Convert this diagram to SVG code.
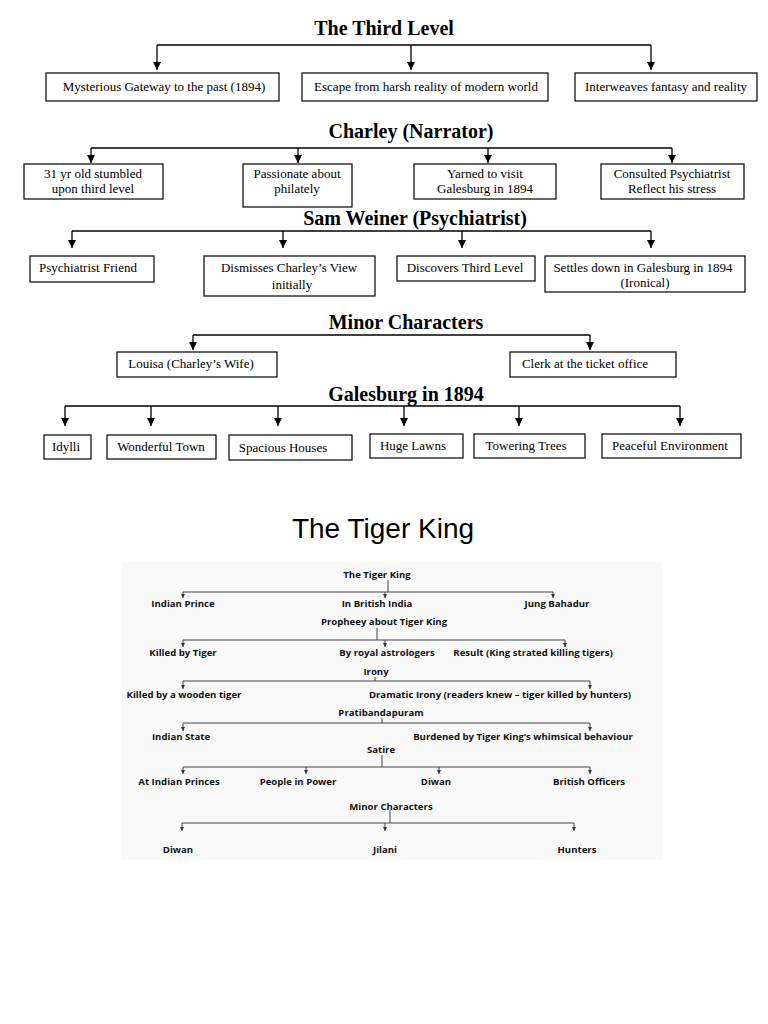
<svg xmlns="http://www.w3.org/2000/svg" width="768" height="1024" viewBox="0 0 768 1024">
<style>
.title{font-family:"Liberation Serif","Times New Roman",serif;font-weight:bold;font-size:20px;fill:#000;text-anchor:middle}
.t{font-family:"Liberation Serif","Times New Roman",serif;font-size:13px;fill:#000;text-anchor:middle}
.box{fill:#fff;stroke:#000;stroke-width:1.2}
.con{fill:none;stroke:#000;stroke-width:1.3}
.tk{font-family:"Open Sans","Liberation Sans",sans-serif;font-weight:bold;font-size:9.6px;fill:#111;text-anchor:middle}
.tcon{fill:none;stroke:#444;stroke-width:1}
.big{font-family:"Liberation Sans",Arial,sans-serif;font-size:28px;fill:#000;text-anchor:middle}
</style>
<defs>
<marker id="ah" viewBox="0 0 10 10" refX="10" refY="5" markerWidth="9" markerHeight="8" markerUnits="userSpaceOnUse" orient="auto"><path d="M0,0 L10,5 L0,10 z" fill="#000"/></marker>
<marker id="ahs" viewBox="0 0 10 10" refX="10" refY="5" markerWidth="5" markerHeight="4" markerUnits="userSpaceOnUse" orient="auto"><path d="M0,0 L10,5 L0,10 z" fill="#333"/></marker>
</defs>
<rect width="768" height="1024" fill="#fff"/>
<rect x="122" y="562" width="540" height="298" fill="#f9f9f9"/>

<g id="connectors">
<path class="con" d="M157,45 H651"/>
<path class="con" d="M157,45 V70" marker-end="url(#ah)"/>
<path class="con" d="M411,45 V70" marker-end="url(#ah)"/>
<path class="con" d="M651,45 V70" marker-end="url(#ah)"/>

<path class="con" d="M91,148 H672"/>
<path class="con" d="M91,148 V163" marker-end="url(#ah)"/>
<path class="con" d="M298,148 V163" marker-end="url(#ah)"/>
<path class="con" d="M488,148 V163" marker-end="url(#ah)"/>
<path class="con" d="M672,148 V163" marker-end="url(#ah)"/>

<path class="con" d="M72,231 H651"/>
<path class="con" d="M72,231 V248" marker-end="url(#ah)"/>
<path class="con" d="M283,231 V248" marker-end="url(#ah)"/>
<path class="con" d="M462,231 V248" marker-end="url(#ah)"/>
<path class="con" d="M651,231 V248" marker-end="url(#ah)"/>

<path class="con" d="M193,335 H590"/>
<path class="con" d="M193,335 V350" marker-end="url(#ah)"/>
<path class="con" d="M590,335 V350" marker-end="url(#ah)"/>

<path class="con" d="M65,406 H680"/>
<path class="con" d="M65,406 V426" marker-end="url(#ah)"/>
<path class="con" d="M151,406 V426" marker-end="url(#ah)"/>
<path class="con" d="M278,406 V426" marker-end="url(#ah)"/>
<path class="con" d="M404,406 V426" marker-end="url(#ah)"/>
<path class="con" d="M519,406 V426" marker-end="url(#ah)"/>
<path class="con" d="M680,406 V426" marker-end="url(#ah)"/>

<path class="tcon" d="M388,580 V592 M183,592 H553"/>
<path class="tcon" d="M183,592 V598" marker-end="url(#ahs)"/>
<path class="tcon" d="M385,592 V598" marker-end="url(#ahs)"/>
<path class="tcon" d="M553,592 V598" marker-end="url(#ahs)"/>

<path class="tcon" d="M377,628 V640 M183,640 H565"/>
<path class="tcon" d="M183,640 V647" marker-end="url(#ahs)"/>
<path class="tcon" d="M385,640 V647" marker-end="url(#ahs)"/>
<path class="tcon" d="M565,640 V647" marker-end="url(#ahs)"/>

<path class="tcon" d="M375,677 V681 M183,681 H590"/>
<path class="tcon" d="M183,681 V689" marker-end="url(#ahs)"/>
<path class="tcon" d="M590,681 V689" marker-end="url(#ahs)"/>

<path class="tcon" d="M382,718 V723 M183,723 H590"/>
<path class="tcon" d="M183,723 V731" marker-end="url(#ahs)"/>
<path class="tcon" d="M590,723 V731" marker-end="url(#ahs)"/>

<path class="tcon" d="M382,755 V767 M183,767 H590"/>
<path class="tcon" d="M183,767 V774" marker-end="url(#ahs)"/>
<path class="tcon" d="M306,767 V774" marker-end="url(#ahs)"/>
<path class="tcon" d="M439,767 V774" marker-end="url(#ahs)"/>
<path class="tcon" d="M590,767 V774" marker-end="url(#ahs)"/>

<path class="tcon" d="M390,810 V823 M182,823 H574"/>
<path class="tcon" d="M182,823 V831" marker-end="url(#ahs)"/>
<path class="tcon" d="M385,823 V831" marker-end="url(#ahs)"/>
<path class="tcon" d="M574,823 V831" marker-end="url(#ahs)"/>
</g>

<g id="n-third-level"><text class="title" x="384" y="35">The Third Level</text></g>
<g id="n-gateway"><rect class="box" x="46" y="73" width="233" height="28"/><text class="t" x="164" y="91">Mysterious Gateway to the past (1894)</text></g>
<g id="n-escape"><rect class="box" x="302" y="73" width="246" height="28"/><text class="t" x="426" y="91">Escape from harsh reality of modern world</text></g>
<g id="n-interweaves"><rect class="box" x="575" y="73" width="182" height="28"/><text class="t" x="666" y="91">Interweaves fantasy and reality</text></g>

<g id="n-charley"><text class="title" x="411" y="138">Charley (Narrator)</text></g>
<g id="n-31yr"><rect class="box" x="24" y="164" width="139" height="35"/><text class="t" x="93" y="178">31 yr old stumbled</text><text class="t" x="93" y="193">upon third level</text></g>
<g id="n-philately"><rect class="box" x="243" y="164" width="109" height="43"/><text class="t" x="297" y="178">Passionate about</text><text class="t" x="297" y="193">philately</text></g>
<g id="n-yarned"><rect class="box" x="414" y="164" width="142" height="35"/><text class="t" x="485" y="178">Yarned to visit</text><text class="t" x="485" y="193">Galesburg in 1894</text></g>
<g id="n-consulted"><rect class="box" x="601" y="164" width="143" height="35"/><text class="t" x="672" y="178">Consulted Psychiatrist</text><text class="t" x="672" y="193">Reflect his stress</text></g>

<g id="n-sam"><text class="title" x="415" y="225">Sam Weiner (Psychiatrist)</text></g>
<g id="n-friend"><rect class="box" x="30" y="256" width="124" height="26"/><text class="t" x="88" y="272">Psychiatrist Friend</text></g>
<g id="n-dismisses"><rect class="box" x="204" y="256" width="171" height="40"/><text class="t" x="289" y="272">Dismisses Charley’s View</text><text class="t" x="292" y="289">initially</text></g>
<g id="n-discovers"><rect class="box" x="397" y="256" width="138" height="25"/><text class="t" x="465" y="272">Discovers Third Level</text></g>
<g id="n-settles"><rect class="box" x="545" y="256" width="200" height="36"/><text class="t" x="643" y="272">Settles down in Galesburg in 1894</text><text class="t" x="645" y="287">(Ironical)</text></g>

<g id="n-minor"><text class="title" x="406" y="329">Minor Characters</text></g>
<g id="n-louisa"><rect class="box" x="117" y="352" width="160" height="25"/><text class="t" x="191" y="368">Louisa (Charley’s Wife)</text></g>
<g id="n-clerk"><rect class="box" x="510" y="352" width="166" height="25"/><text class="t" x="585" y="368">Clerk at the ticket office</text></g>

<g id="n-galesburg"><text class="title" x="406" y="401">Galesburg in 1894</text></g>
<g id="n-idylli"><rect class="box" x="44" y="435" width="47" height="24"/><text class="t" x="66" y="451">Idylli</text></g>
<g id="n-wonderful"><rect class="box" x="107" y="435" width="109" height="24"/><text class="t" x="161" y="451">Wonderful Town</text></g>
<g id="n-spacious"><rect class="box" x="229" y="435" width="123" height="25"/><text class="t" x="283" y="452">Spacious Houses</text></g>
<g id="n-lawns"><rect class="box" x="370" y="434" width="93" height="24"/><text class="t" x="413" y="450">Huge Lawns</text></g>
<g id="n-trees"><rect class="box" x="474" y="434" width="111" height="24"/><text class="t" x="526" y="450">Towering Trees</text></g>
<g id="n-peaceful"><rect class="box" x="602" y="434" width="139" height="24"/><text class="t" x="670" y="450">Peaceful Environment</text></g>

<g id="n-tiger-heading"><text class="big" x="383" y="538">The Tiger King</text></g>

<g id="tk-root"><text class="tk" x="377" y="578">The Tiger King</text></g>
<g id="tk-prince"><text class="tk" x="183" y="607">Indian Prince</text></g>
<g id="tk-british-india"><text class="tk" x="377" y="607">In British India</text></g>
<g id="tk-jung"><text class="tk" x="557" y="607">Jung Bahadur</text></g>
<g id="tk-prophecy"><text class="tk" x="384" y="625">Propheey about Tiger King</text></g>
<g id="tk-killed-tiger"><text class="tk" x="183" y="656">Killed by Tiger</text></g>
<g id="tk-astrologers"><text class="tk" x="387" y="656">By royal astrologers</text></g>
<g id="tk-result"><text class="tk" x="533" y="656">Result (King strated killing tigers)</text></g>
<g id="tk-irony"><text class="tk" x="376" y="675">Irony</text></g>
<g id="tk-wooden"><text class="tk" x="184" y="698">Killed by a wooden tiger</text></g>
<g id="tk-dramatic"><text class="tk" x="500" y="698">Dramatic Irony (readers knew – tiger killed by hunters)</text></g>
<g id="tk-prati"><text class="tk" x="381" y="716">Pratibandapuram</text></g>
<g id="tk-state"><text class="tk" x="181" y="740">Indian State</text></g>
<g id="tk-burdened"><text class="tk" x="523" y="740">Burdened by Tiger King’s whimsical behaviour</text></g>
<g id="tk-satire"><text class="tk" x="381" y="753">Satire</text></g>
<g id="tk-princes"><text class="tk" x="179" y="785">At Indian Princes</text></g>
<g id="tk-power"><text class="tk" x="298" y="785">People in Power</text></g>
<g id="tk-diwan1"><text class="tk" x="436" y="785">Diwan</text></g>
<g id="tk-officers"><text class="tk" x="589" y="785">British Officers</text></g>
<g id="tk-minor"><text class="tk" x="391" y="810">Minor Characters</text></g>
<g id="tk-diwan2"><text class="tk" x="178" y="853">Diwan</text></g>
<g id="tk-jilani"><text class="tk" x="385" y="853">Jilani</text></g>
<g id="tk-hunters"><text class="tk" x="577" y="853">Hunters</text></g>
</svg>
